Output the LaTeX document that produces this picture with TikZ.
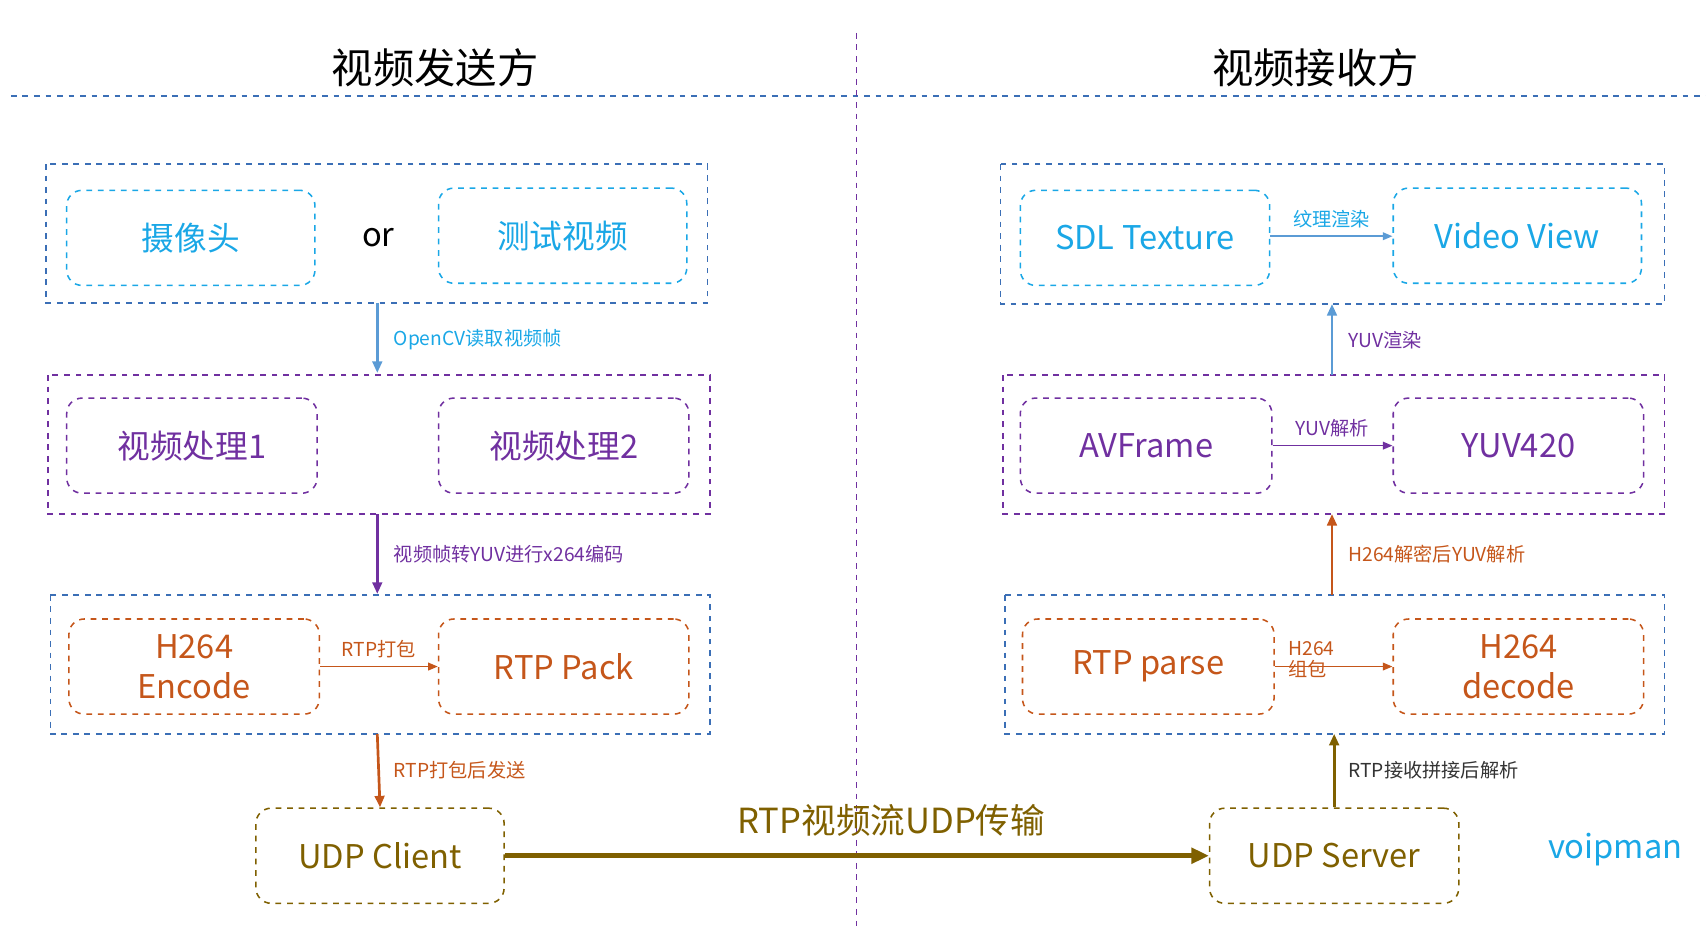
\documentclass[tikz,border=0pt]{standalone}
\usepackage{fontspec}
\setmainfont{Noto Sans CJK SC}
\usetikzlibrary{arrows.meta}
\definecolor{cy}{HTML}{1AA7E6}
\definecolor{bl}{HTML}{3B6FB6}
\definecolor{pu}{HTML}{7030A0}
\definecolor{orr}{HTML}{C5561A}
\definecolor{br}{HTML}{7F6000}
\definecolor{ab}{HTML}{5B9BD5}
\begin{document}
\begin{tikzpicture}[x=0.02cm,y=-0.02cm,
 outer/.style={draw=#1,dashed,line width=0.8pt},
 inner/.style={draw=#1,dashed,line width=0.8pt,rounded corners=8pt,text=#1,font=\fontsize{17}{21}\selectfont,align=center},
 arr/.style={draw=#1,line width=1.4pt,-{Triangle[length=6pt,width=5pt]}},
 sarr/.style={draw=#1,line width=0.8pt,-{Triangle[length=5pt,width=4pt]}},
 lab/.style={text=#1,font=\fontsize{10}{11}\selectfont,inner sep=1pt}]
\useasboundingbox (0,0) rectangle (1560,850);
\node (t1) at (398,62) {\fontsize{21.5}{23}\selectfont 视频发送方};
\node (t2) at (1203,62) {\fontsize{21.5}{23}\selectfont 视频接收方};
\draw[bl,dashed,line width=0.8pt] (10,88) -- (1560,88);
\draw[pu,dashed,line width=0.8pt] (783,30) -- (783,855);
% left
\draw[outer=bl] (42,150) rectangle (647,277);
\node[inner=cy,minimum width=227*0.02cm,minimum height=87*0.02cm] (cam) at (174.5,217.5) {摄像头};
\node[inner=cy,minimum width=227*0.02cm,minimum height=87*0.02cm] (test) at (514.5,215.5) {测试视频};
\node (or) at (346,217) {\fontsize{17}{19}\selectfont or};
\coordinate (a1s) at (345,277); \coordinate (a1e) at (345,341);
\draw[arr=ab] (a1s) -- (a1e);
\node[lab=cy,anchor=west] (l1) at (358,311) {OpenCV读取视频帧};
\draw[outer=pu] (44,343) rectangle (649,470);
\node[inner=pu,minimum width=229*0.02cm,minimum height=87*0.02cm] (p1) at (175.5,407.5) {视频处理1};
\node[inner=pu,minimum width=229*0.02cm,minimum height=87*0.02cm] (p2) at (515.5,407.5) {视频处理2};
\coordinate (a2s) at (345,470); \coordinate (a2e) at (345,543);
\draw[arr=pu] (a2s) -- (a2e);
\node[lab=pu,anchor=west] (l2) at (358,507) {视频帧转YUV进行x264编码};
\draw[outer=bl] (46,544) rectangle (649,671);
\node[inner=orr,minimum width=229*0.02cm,minimum height=87*0.02cm] (enc) at (177.5,609.5) {H264\\Encode};
\node[inner=orr,minimum width=229*0.02cm,minimum height=87*0.02cm] (pack) at (515.5,609.5) {RTP Pack};
\draw[sarr=orr] (enc) -- (pack) node[lab=orr,midway,above=3pt] {RTP打包};
\coordinate (a3s) at (345,671);
\node[inner=br,minimum width=227*0.02cm,minimum height=87*0.02cm] (cli) at (347.5,782.5) {UDP Client};
\draw[arr=orr] (a3s) -- (cli.north);
\node[lab=orr,anchor=west] (l3) at (358,704) {RTP打包后发送};
\node[inner=br,minimum width=228*0.02cm,minimum height=87*0.02cm] (srv) at (1220,782.5) {UDP Server};
\draw[br,line width=2.5pt,-{Triangle[length=9pt,width=8pt]}] (cli) -- (srv);
\node[text=br] (l4) at (815,750) {\fontsize{18}{20}\selectfont RTP视频流UDP传输};
% right
\draw[outer=bl] (915,150) rectangle (1522,278);
\node[inner=cy,minimum width=228*0.02cm,minimum height=87*0.02cm] (sdl) at (1047,217.5) {SDL Texture};
\node[inner=cy,minimum width=227*0.02cm,minimum height=87*0.02cm] (vv) at (1387.5,215.5) {Video View};
\draw[sarr=ab] (sdl.east |- 0,216) -- (vv.west |- 0,216) node[lab=cy,midway,above=3pt] {纹理渲染};
\draw[outer=pu] (917,343) rectangle (1522,470);
\node[inner=pu,minimum width=230*0.02cm,minimum height=87*0.02cm] (av) at (1048,407.5) {AVFrame};
\node[inner=pu,minimum width=229*0.02cm,minimum height=87*0.02cm] (yuv) at (1388.5,407.5) {YUV420};
\draw[sarr=pu] (av) -- (yuv) node[lab=pu,midway,above=3pt] {YUV解析};
\coordinate (b1s) at (1218,343); \coordinate (b1e) at (1218,278);
\draw[arr=ab] (b1s) -- (b1e);
\node[lab=pu,anchor=west] (l5) at (1231,311) {YUV渲染};
\draw[outer=bl] (919,544) rectangle (1522,671);
\node[inner=orr,minimum width=230*0.02cm,minimum height=87*0.02cm] (parse) at (1050,609.5) {RTP parse};
\node[inner=orr,minimum width=229*0.02cm,minimum height=87*0.02cm] (dec) at (1388.5,609.5) {H264\\decode};
\draw[sarr=orr] (parse) -- (dec);
\node[lab=orr,align=left,anchor=west,font=\fontsize{10}{11}\selectfont] (l6) at (1176,603) {H264\\组包};
\coordinate (b2s) at (1218,544); \coordinate (b2e) at (1218,470);
\draw[arr=orr] (b2s) -- (b2e);
\node[lab=orr,anchor=west] (l7) at (1231,507) {H264解密后YUV解析};
\coordinate (b3e) at (1220,671);
\draw[arr=br] (srv.north) -- (b3e);
\node[lab=black!80,anchor=west] (l8) at (1231,704) {RTP接收拼接后解析};
\node[text=cy] (vm) at (1477,777) {\fontsize{17}{19}\selectfont voipman};
\end{tikzpicture}
\end{document}
